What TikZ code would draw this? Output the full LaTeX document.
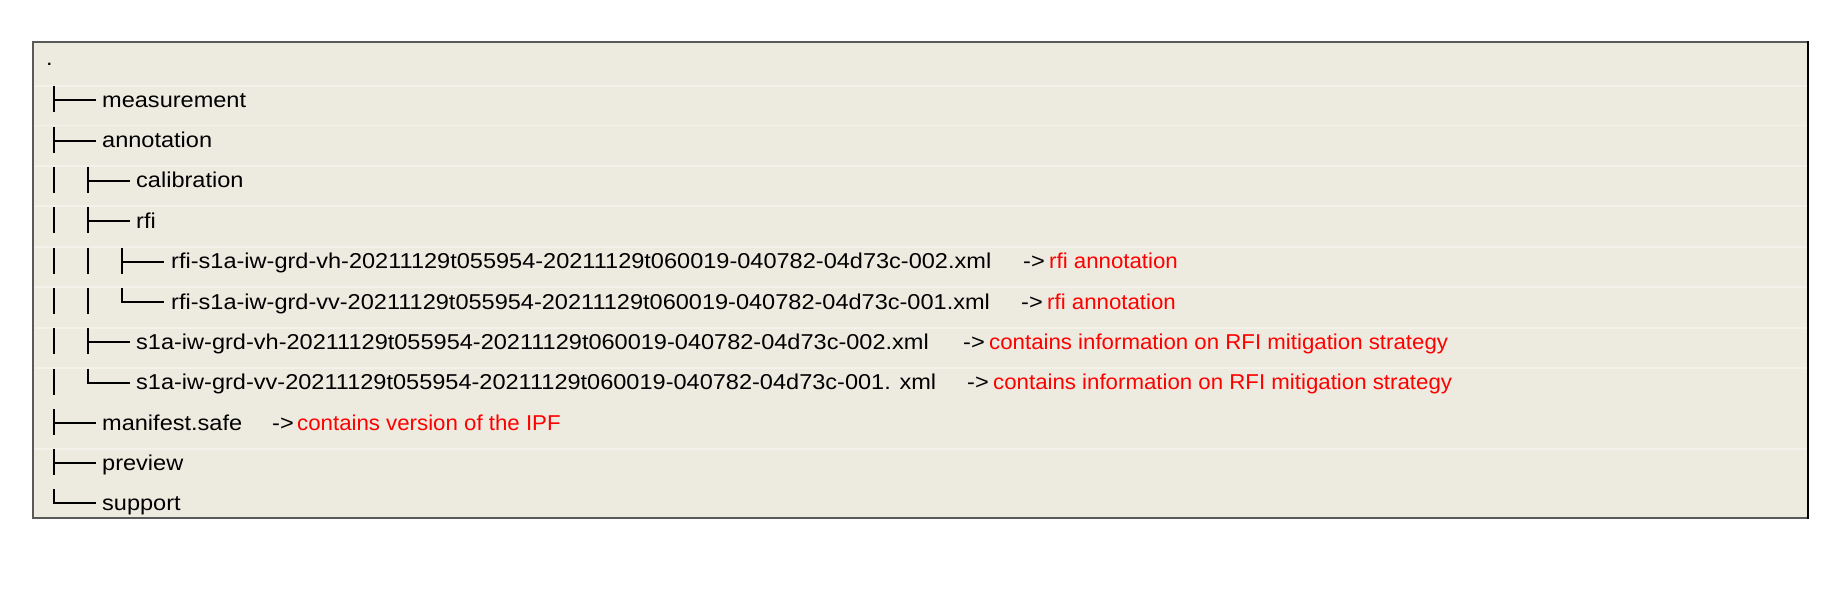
\documentclass[tikz,border=0pt]{standalone}
\usepackage{fontspec}
\setmainfont[FakeStretch=1.095]{Liberation Sans}
\newfontfamily\notefont[FakeStretch=1.035]{Liberation Sans}
\definecolor{bgbeige}{HTML}{EDEAE0}
\definecolor{sepline}{HTML}{F3F1EA}
\definecolor{bordergray}{HTML}{5A5A5A}
\definecolor{notered}{HTML}{FF0000}
\tikzset{
  txt/.style={anchor=base west, inner sep=0pt, font=\fontsize{21.5}{25}\selectfont, text=black},
  note/.style={txt, font=\notefont\fontsize{21.5}{25}\selectfont, text=notered},
  treeline/.style={line width=2pt, black},
}
\newcommand{\tee}[2]{\draw[treeline] (#1,#2-14) -- (#1,#2+12); \draw[treeline] (#1,#2) -- (#1+42,#2);}
\newcommand{\vbar}[2]{\draw[treeline] (#1,#2-14) -- (#1,#2+12);}
\newcommand{\corner}[2]{\draw[treeline] (#1,#2-14) -- (#1,#2) -- (#1+42,#2);}
\begin{document}
\begin{tikzpicture}[x=1pt,y=-1pt]
\useasboundingbox (0,0) rectangle (1842,590);
\fill[white] (0,0) rectangle (1842,590);
\fill[bgbeige] (33,42) rectangle (1808,518);
\foreach \yy in {86,125.5,166,206,247,287,328,368,449}
  \draw[sepline, line width=1.2pt] (34,\yy) -- (1807,\yy);
\draw[bordergray, line width=2pt] (1808,42) -- (33,42) -- (33,518) -- (1808,518);
\draw[black, line width=2pt] (1808,41) -- (1808,519);
% root
\node[txt] (root) at (46,65) {.};
% rows
\tee{54}{100}
\node[txt] (measurement) at (102,107) {measurement};
\tee{54}{140.5}
\node[txt] (annotation) at (102,147.5) {annotation};
\vbar{54}{180.5} \tee{88}{180.5}
\node[txt] (calibration) at (136,187.5) {calibration};
\vbar{54}{221} \tee{88}{221}
\node[txt] (rfi) at (136,228) {rfi};
\vbar{54}{261.5} \vbar{88}{261.5} \tee{122}{261.5}
\node[txt] (rfivh) at (171,268.5) {rfi-s1a-iw-grd-vh-20211129t055954-20211129t060019-040782-04d73c-002.xml};
\node[txt] (arrA) at (1023,268.5) {->};
\node[note] (noteA) at (1049,268.5) {rfi annotation};
\vbar{54}{302} \vbar{88}{302} \corner{122}{302}
\node[txt] (rfivv) at (171,309) {rfi-s1a-iw-grd-vv-20211129t055954-20211129t060019-040782-04d73c-001.xml};
\node[txt] (arrB) at (1021,309) {->};
\node[note] (noteB) at (1047,309) {rfi annotation};
\vbar{54}{342} \tee{88}{342}
\node[txt] (svh) at (136,349) {s1a-iw-grd-vh-20211129t055954-20211129t060019-040782-04d73c-002.xml};
\node[txt] (arrC) at (963,349) {->};
\node[note] (noteC) at (989,349) {contains information on RFI mitigation strategy};
\vbar{54}{382.5} \corner{88}{382.5}
\node[txt] (svv) at (136,389.5) {s1a-iw-grd-vv-20211129t055954-20211129t060019-040782-04d73c-001. xml};
\node[txt] (arrD) at (967,389.5) {->};
\node[note] (noteD) at (993,389.5) {contains information on RFI mitigation strategy};
\tee{54}{423}
\node[txt] (manifest) at (102,430) {manifest.safe};
\node[txt] (arrE) at (272,430) {->};
\node[note] (noteE) at (297,430) {contains version of the IPF};
\tee{54}{463}
\node[txt] (preview) at (102,470) {preview};
\corner{54}{503}
\node[txt] (support) at (102,510) {support};
\end{tikzpicture}
\end{document}
